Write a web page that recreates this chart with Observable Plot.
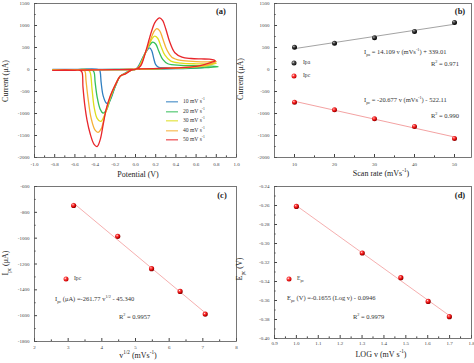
<!DOCTYPE html>
<html><head><meta charset="utf-8">
<script src="https://cdn.jsdelivr.net/npm/d3@7"></script>
<script src="https://cdn.jsdelivr.net/npm/@observablehq/plot@0.6"></script>
<style>
body{margin:0;background:#fff;}
#wrap{position:relative;width:474px;height:363px;overflow:hidden;font-family:"Liberation Serif","Times New Roman",serif;color:#222;}
.p{position:absolute;}
.p svg{overflow:visible;}
.t{position:absolute;white-space:nowrap;line-height:1;}
.c{transform:translate(-50%,-50%);}
.l{transform:translateY(-50%);}
.r{transform:translate(-50%,-50%) rotate(-90deg);}
.ax{font-size:8px;color:#222;}
.pl{font-size:8.5px;font-weight:bold;}
.eq{font-size:6.5px;color:#333;}
.lg{font-size:5.6px;color:#333;}
sub,sup{font-size:65%;line-height:0;}
.dotR,.dotK{position:absolute;width:5px;height:5px;border-radius:50%;transform:translate(-50%,-50%);}
.dotR{background:radial-gradient(circle at 35% 35%,#fff 0,#ff5050 22%,#d60000 65%,#700000 100%);}
.dotK{background:radial-gradient(circle at 35% 35%,#ddd 0,#555 25%,#111 70%,#000 100%);}
.ll{position:absolute;width:12px;height:1.3px;transform:translateY(-50%);}
</style></head><body>
<svg width="0" height="0" style="position:absolute">
<defs>
<radialGradient id="gRed" cx="0.38" cy="0.35" r="0.7"><stop offset="0" stop-color="#fff"/><stop offset="0.22" stop-color="#ff5050"/><stop offset="0.65" stop-color="#d60000"/><stop offset="1" stop-color="#700000"/></radialGradient>
<radialGradient id="gBlack" cx="0.38" cy="0.35" r="0.7"><stop offset="0" stop-color="#ddd"/><stop offset="0.25" stop-color="#555"/><stop offset="0.7" stop-color="#111"/><stop offset="1" stop-color="#000"/></radialGradient>
</defs></svg>
<div id="wrap"></div>
<script>
// ---------- Panel (a): cyclic voltammograms ----------
const cvLabels = ["10 mV s-1","20 mV s-1","30 mV s-1","40 mV s-1","50 mV s-1"];
const cvColors = ["#2f7fc1","#35bf5a","#dede1e","#f5b035","#e8262b"];
const cv10E = [-0.82,-0.6,-0.4,-0.2,-0.05,0.0,0.03,0.07,0.11,0.14,0.16,0.18,0.20,0.23,0.3,0.45,0.6,0.68,0.6,0.45,0.3,0.1,0.0,-0.05,-0.1,-0.15,-0.2,-0.24,-0.27,-0.29,-0.32,-0.34,-0.35,-0.36,-0.6,-0.82];
const cv10I = [0,0,0,0,2,5,80,260,420,490,430,260,110,50,40,38,40,45,30,20,15,8,5,-20,-80,-150,-380,-640,-770,-760,-600,-300,-50,-5,0,0];
const cv20E = [-0.82,-0.6,-0.4,-0.2,-0.05,0.0,0.03,0.08,0.13,0.17,0.20,0.23,0.27,0.32,0.45,0.6,0.75,0.82,0.7,0.5,0.3,0.1,0.0,-0.05,-0.1,-0.15,-0.2,-0.25,-0.29,-0.32,-0.35,-0.38,-0.40,-0.41,-0.43,-0.6,-0.82];
const cv20I = [-5,-5,-3,0,2,5,60,300,520,620,580,420,230,130,95,85,75,60,42,28,18,10,6,-20,-85,-150,-380,-680,-930,-990,-900,-620,-280,-60,-8,-5,-5];
const cv30E = [-0.82,-0.6,-0.4,-0.2,-0.05,0.0,0.03,0.08,0.13,0.17,0.19,0.22,0.25,0.29,0.35,0.45,0.6,0.72,0.8,0.72,0.6,0.45,0.25,0.05,0.0,-0.05,-0.1,-0.15,-0.2,-0.25,-0.3,-0.345,-0.38,-0.41,-0.43,-0.45,-0.47,-0.6,-0.82];
const cv30I = [-8,-8,-5,-2,2,5,50,280,540,720,757,710,540,330,190,145,130,130,145,95,60,38,22,10,7,-20,-90,-150,-360,-650,-1000,-1180,-1110,-850,-450,-60,-10,-8,-8];
const cv40E = [-0.82,-0.6,-0.4,-0.2,-0.05,0.0,0.04,0.09,0.14,0.18,0.21,0.24,0.27,0.31,0.36,0.45,0.6,0.72,0.8,0.72,0.6,0.45,0.25,0.05,0.0,-0.05,-0.1,-0.15,-0.2,-0.25,-0.3,-0.34,-0.37,-0.40,-0.44,-0.47,-0.49,-0.50,-0.52,-0.6,-0.82];
const cv40I = [-10,-10,-6,-3,2,5,60,330,620,850,930,880,700,450,280,205,180,175,185,110,68,40,23,11,8,-25,-95,-150,-350,-620,-1000,-1350,-1430,-1380,-1100,-650,-250,-40,-12,-10,-10];
const cv50E = [-0.82,-0.6,-0.4,-0.2,-0.05,0.0,0.05,0.10,0.15,0.19,0.22,0.24,0.27,0.30,0.34,0.39,0.46,0.55,0.65,0.73,0.78,0.79,0.75,0.68,0.6,0.45,0.25,0.05,0.0,-0.05,-0.1,-0.15,-0.2,-0.25,-0.29,-0.32,-0.35,-0.38,-0.41,-0.45,-0.48,-0.50,-0.52,-0.53,-0.55,-0.6,-0.82];
const cv50I = [-18,-15,-10,-5,2,5,80,400,800,1060,1150,1175,1110,920,620,380,280,250,240,235,215,195,160,110,72,42,25,12,9,-25,-100,-150,-350,-600,-900,-1250,-1600,-1750,-1700,-1450,-1150,-850,-400,-60,-20,-18,-18];
const aXTicks = [-1.0,-0.8,-0.6,-0.4,-0.2,0.0,0.2,0.4,0.6,0.8,1.0];
const aXMinor = [-0.9,-0.7,-0.5,-0.3,-0.1,0.1,0.3,0.5,0.7,0.9];
const curTicks = [-2000,-1500,-1000,-500,0,500,1000,1500];
const curMinor = [-1750,-1250,-750,-250,250,750,1250];

// ---------- Panel (b): peak current vs scan rate ----------
const scanRates = [10,20,30,40,50];
const ipaVals = [507,598,720,864,1068];
const ipcVals = [-743,-916,-1120,-1295,-1568];
const bXTicks = [10,20,30,40,50];
const bXMinor = [15,25,35,45];

// ---------- Panel (c): Ipc vs sqrt(scan rate) ----------
const sqrtRates = [3.162,4.472,5.477,6.325,7.071];
const ipcSqrtVals = [-747,-986,-1236,-1412,-1588];
const cXTicks = [2,3,4,5,6,7,8];
const cXMinor = [2.5,3.5,4.5,5.5,6.5,7.5];
const cYTicks = [-1800,-1600,-1400,-1200,-1000,-800,-600];
const cYMinor = [-1700,-1500,-1300,-1100,-900,-700];

// ---------- Panel (d): Epc vs log(scan rate) ----------
const logRates = [1.0,1.301,1.477,1.602,1.699];
const epcVals = [-0.261,-0.310,-0.336,-0.361,-0.377];
const dXTicks = [0.9,1.0,1.1,1.2,1.3,1.4,1.5,1.6,1.7,1.8];
const dXMinor = [0.95,1.05,1.15,1.25,1.35,1.45,1.55,1.65,1.75];
const dYTicks = [-0.40,-0.38,-0.36,-0.34,-0.32,-0.30,-0.28,-0.26,-0.24];
const dYMinor = [-0.39,-0.37,-0.35,-0.33,-0.31,-0.29,-0.27,-0.25];

const wrap = document.getElementById("wrap");
const baseStyle = {fontFamily:"Liberation Serif, serif", fontSize:"5px", color:"#444", background:"transparent", overflow:"visible"};

function axes(xT, xM, yT, yM, fx, fy, xPad = 8) {
  return [
    Plot.axisX({ticks: xT, tickSize: -3, tickPadding: xPad, tickFormat: fx, label: null}),
    Plot.axisX({ticks: xM, tickSize: -1.6, tickFormat: () => "", label: null}),
    Plot.axisY({ticks: yT, tickSize: -3, tickPadding: 8, tickFormat: fy, label: null}),
    Plot.axisY({ticks: yM, tickSize: -1.6, tickFormat: () => "", label: null}),
    Plot.frame({stroke: "#555", strokeWidth: 0.8})
  ];
}
function place(el, left, top) {
  const d = document.createElement("div");
  d.className = "p"; d.style.left = left + "px"; d.style.top = top + "px";
  d.appendChild(el); wrap.appendChild(d);
}

// Panel A
const cvRows = [];
[[cv10E,cv10I],[cv20E,cv20I],[cv30E,cv30I],[cv40E,cv40I],[cv50E,cv50I]].forEach(([E,I],k) => {
  E.forEach((e,i) => cvRows.push({E: e, I: I[i], s: cvLabels[k]}));
});
place(Plot.plot({
  width: 238, height: 182, marginLeft: 34, marginRight: 2, marginTop: 3, marginBottom: 25,
  style: baseStyle,
  x: {domain: [-1, 1]}, y: {domain: [-2000, 1500]},
  color: {domain: cvLabels, range: cvColors},
  marks: [
    ...axes(aXTicks, aXMinor, curTicks, curMinor, d => d.toFixed(1), d => String(d)),
    Plot.line(cvRows, {x: "E", y: "I", z: "s", stroke: "s", strokeWidth: 1.3, curve: "catmull-rom"})
  ]
}), 0, 0);

// Panel B
const ipaRows = scanRates.map((v,i) => ({v, I: ipaVals[i]}));
const ipcRows = scanRates.map((v,i) => ({v, I: ipcVals[i]}));
place(Plot.plot({
  width: 240, height: 182, marginLeft: 40, marginRight: 3, marginTop: 3, marginBottom: 25,
  style: baseStyle,
  x: {domain: [5, 54.25]}, y: {domain: [-2000, 1500]},
  marks: [
    ...axes(bXTicks, bXMinor, curTicks, curMinor, d => String(d), d => String(d)),
    Plot.linearRegressionY(ipaRows, {x: "v", y: "I", stroke: "#8c8c8c", strokeWidth: 0.8, ci: 0}),
    Plot.linearRegressionY(ipcRows, {x: "v", y: "I", stroke: "#f08a8a", strokeWidth: 0.8, ci: 0}),
    Plot.dot(ipaRows, {x: "v", y: "I", r: 2.5, fill: "url(#gBlack)"}),
    Plot.dot(ipcRows, {x: "v", y: "I", r: 2.5, fill: "url(#gRed)"})
  ]
}), 234, 0);

// Panel C
const cRows = sqrtRates.map((v,i) => ({v, I: ipcSqrtVals[i]}));
place(Plot.plot({
  width: 238, height: 180, marginLeft: 34, marginRight: 2, marginTop: 6, marginBottom: 19,
  style: baseStyle,
  x: {domain: [2, 8]}, y: {domain: [-1800, -600]},
  marks: [
    ...axes(cXTicks, cXMinor, cYTicks, cYMinor, d => String(d), d => String(d), 7),
    Plot.linearRegressionY(cRows, {x: "v", y: "I", stroke: "#f29a9a", strokeWidth: 0.8, ci: 0}),
    Plot.dot(cRows, {x: "v", y: "I", r: 2.6, fill: "url(#gRed)"})
  ]
}), 0, 180);

// Panel D
const dRows = logRates.map((v,i) => ({v, E: epcVals[i]}));
place(Plot.plot({
  width: 240, height: 180, marginLeft: 40, marginRight: 3, marginTop: 6, marginBottom: 22,
  style: baseStyle,
  x: {domain: [0.9, 1.8]}, y: {domain: [-0.40, -0.24]},
  marks: [
    ...axes(dXTicks, dXMinor, dYTicks, dYMinor, d => d.toFixed(1), d => d.toFixed(2), 6),
    Plot.linearRegressionY(dRows, {x: "v", y: "E", stroke: "#f29a9a", strokeWidth: 0.8, ci: 0}),
    Plot.dot(dRows, {x: "v", y: "E", r: 2.6, fill: "url(#gRed)"})
  ]
}), 234, 180);

// ---------- Texts ----------
function txt(html, cls, x, y, right) {
  const d = document.createElement("div");
  d.className = "t " + cls; d.innerHTML = html;
  if (right !== undefined) { d.style.right = right + "px"; } else { d.style.left = x + "px"; }
  d.style.top = y + "px"; wrap.appendChild(d); return d;
}
function box(cls, x, y, color) {
  const d = document.createElement("div");
  d.className = cls; d.style.left = x + "px"; d.style.top = y + "px";
  if (color) d.style.background = color;
  wrap.appendChild(d);
}
// (a)
txt("Potential (V)", "ax c", 138, 175);
txt("Current (μA)", "ax r", 6, 81);
txt("(a)", "pl c", 221, 11);
const lgY = [102, 111.5, 121, 130.5, 140];
cvLabels.forEach((lab, k) => {
  box("ll", 166, lgY[k], cvColors[k]);
  txt(lab.replace(" s-1", " s<sup>-1</sup>"), "lg l", 183, lgY[k]);
});
// (b)
txt("Scan rate (mVs<sup>-1</sup>)", "ax c", 381, 174);
txt("Current (μA)", "ax r", 241, 79);
txt("(b)", "pl c", 460, 11);
box("dotK", 294, 63);
txt("Ipa", "lg l", 303, 63);
box("dotR", 294, 76);
txt("Ipc", "lg l", 303, 76);
txt("I<sub>pa</sub> = 14.109 v (mVs<sup>-1</sup>) + 339.01", "eq l", 364, 52);
txt("R<sup>2</sup> = 0.971", "eq l", 0, 64, 15);
txt("I<sub>pc</sub> = -20.677 v (mVs<sup>-1</sup>) - 522.11", "eq l", 364, 100);
txt("R<sup>2</sup> = 0.990", "eq l", 0, 116, 15);
// (c)
txt("v<sup>1/2</sup> (mVs<sup>-1</sup>)", "ax c", 138, 356);
txt("I<sub>pc</sub> (μA)", "ax r", 6, 263);
txt("(c)", "pl c", 222, 195);
box("dotR", 66, 279);
txt("Ipc", "lg l", 74, 279);
txt("I<sub>pc</sub> (μA) =-261.77 v<sup>1/2</sup> - 45.340", "eq l", 55, 299);
txt("R<sup>2</sup> = 0.9957", "eq l", 119, 317);
// (d)
txt("LOG v (mV s<sup>-1</sup>)", "ax c", 381, 355);
txt("E<sub>pc</sub> (V)", "ax r", 240, 269);
txt("(d)", "pl c", 460, 195);
box("dotR", 289, 279);
txt("E<sub>pc</sub>", "lg l", 297, 279);
txt("E<sub>pc</sub> (V) =-0.1655 (Log v) - 0.0946", "eq l", 287, 298);
txt("R<sup>2</sup> = 0.9979", "eq l", 353, 317);
</script>
</body></html>
